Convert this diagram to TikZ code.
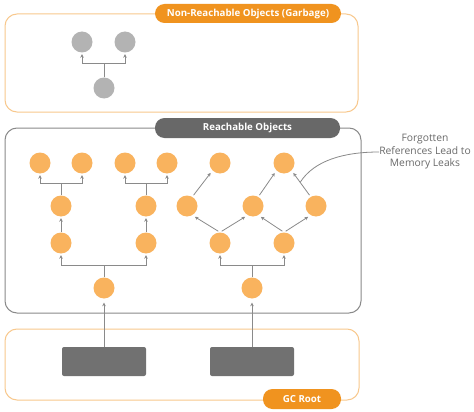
\documentclass[tikz,border=0pt]{standalone}
\usepackage{fontspec}
\setmainfont{Open Sans}
\usetikzlibrary{arrows.meta,calc}
\definecolor{orfill}{HTML}{F9B35E}
\definecolor{orpill}{HTML}{F0931F}
\definecolor{orline}{HTML}{F8C88D}
\definecolor{gnode}{HTML}{B3B3B3}
\definecolor{dpill}{HTML}{686868}
\definecolor{gline}{HTML}{8A8A8A}
\definecolor{rectg}{HTML}{717171}
\definecolor{txtg}{HTML}{6A6A6A}
\tikzset{
  panelO/.style={draw=orline, line width=1pt, rounded corners=12pt, fill=white},
  panelG/.style={draw=gline, line width=1pt, rounded corners=12pt, fill=white},
  pill/.style={rounded corners=9.5pt, minimum height=19pt, inner sep=0pt, text=white, font=\fontsize{9.7}{10}\selectfont\bfseries},
  onode/.style={circle, fill=orfill, minimum size=21pt, inner sep=0pt},
  gnodes/.style={circle, fill=gnode, minimum size=21pt, inner sep=0pt},
  conn/.style={draw=gline, line width=0.8pt},
  arr/.style={conn, -{Stealth[length=3.5pt,width=3.5pt]}, shorten >=1.5pt},
  darr/.style={conn, -{Stealth[length=3.5pt,width=3.5pt]}, shorten >=3pt, shorten <=2pt},
  root/.style={fill=rectg, rounded corners=2pt, minimum width=84pt, minimum height=29pt, inner sep=0pt}
}
\begin{document}
\begin{tikzpicture}[x=1pt,y=-1pt]
\useasboundingbox[fill=white] (0,0) rectangle (474,412);
% panels
\path[panelO] (5,14) rectangle (358,112);
\path[panelG] (5,128) rectangle (361,313);
\path[panelO] (5,329) rectangle (359,400);
% pills
\node[pill, fill=orpill, minimum width=186pt] (garb) at (248,13.5) {Non-Reachable Objects (Garbage)};
\node[pill, fill=dpill, minimum width=185pt, minimum height=20pt] (reach) at (247.5,128) {Reachable Objects};
\node[pill, fill=orpill, minimum width=78pt, minimum height=20pt] (gcroot) at (302,399) {GC Root};
% garbage nodes
\node[gnodes] (g1) at (82,42) {};
\node[gnodes] (g2) at (125,42) {};
\node[gnodes] (g3) at (104,88) {};
\coordinate (jg) at (104,63);
\draw[conn] (g3) -- (jg);
\draw[arr] (jg) -| (g1);
\draw[arr] (jg) -| (g2);
% left tree
\node[onode] (a1) at (40,163) {};
\node[onode] (a2) at (82,163) {};
\node[onode] (a3) at (125,163) {};
\node[onode] (a4) at (167,163) {};
\node[onode] (b1) at (61,206) {};
\node[onode] (b2) at (146,206) {};
\node[onode] (c1) at (61,243) {};
\node[onode] (c2) at (146,243) {};
\node[onode] (d1) at (104,288) {};
\coordinate (j1) at (61,183);
\coordinate (j2) at (146,183);
\coordinate (j3) at (104,265);
\draw[conn] (d1) -- (j3);
\draw[arr] (j3) -| (c1);
\draw[arr] (j3) -| (c2);
\draw[arr] (c1) -- (b1);
\draw[arr] (c2) -- (b2);
\draw[conn] (b1) -- (j1);
\draw[arr] (j1) -| (a1);
\draw[arr] (j1) -| (a2);
\draw[conn] (b2) -- (j2);
\draw[arr] (j2) -| (a3);
\draw[arr] (j2) -| (a4);
% right tree
\node[onode] (e1) at (220,163) {};
\node[onode] (e2) at (284,163) {};
\node[onode] (f1) at (187,206) {};
\node[onode] (f2) at (253,206) {};
\node[onode] (f3) at (316,206) {};
\node[onode] (h1) at (220,243) {};
\node[onode] (h2) at (284,243) {};
\node[onode] (k1) at (252,288) {};
\coordinate (j4) at (252,265);
\draw[conn] (k1) -- (j4);
\draw[arr] (j4) -| (h1);
\draw[arr] (j4) -| (h2);
\draw[darr] (h1.north) -- (f1.-60);
\draw[darr] (h1.north) -- (f2.-120);
\draw[darr] (h2.north) -- (f2.-60);
\draw[darr] (h2.north) -- (f3.-120);
\draw[darr] (f1.60) -- (e1.-135);
\draw[darr] (f2.60) -- (e2.-135);
\draw[darr] (f3.120) -- (e2.-45);
% roots
\node[root] (r1) at (104,361.5) {};
\node[root] (r2) at (252,361.5) {};
\draw[arr, shorten >=4pt] (r1.north) -- (d1.south);
\draw[arr, shorten >=4pt] (r2.north) -- (k1.south);
% label
\node[inner sep=0pt, align=center, text=txtg, font=\fontsize{10.3}{12.5}\selectfont] (fr) at (425,152) {Forgotten\\References Lead to\\Memory Leaks};
\coordinate (fm) at ($(f3.120)!0.55!(e2.-45)$);
\draw[conn] (fm) .. controls ($(fm)+(14,-22)$) and ($(fr.west)+(-35,0)$) .. (fr.west);
\end{tikzpicture}
\end{document}
